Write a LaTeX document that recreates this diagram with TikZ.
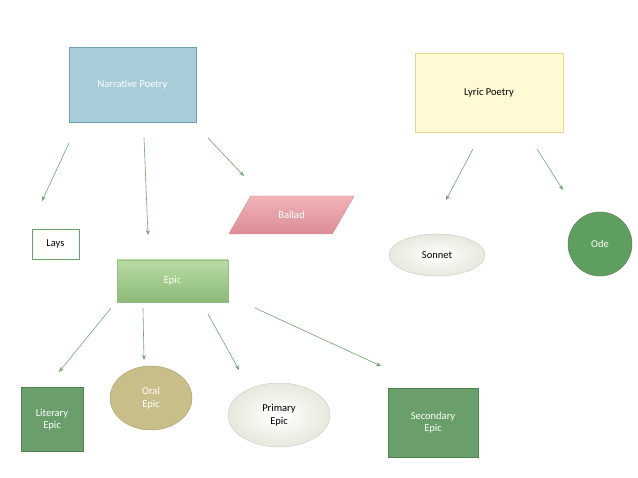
\documentclass[tikz,border=0pt]{standalone}
\usepackage{fontspec}
\setmainfont{Carlito}
\usetikzlibrary{shapes.geometric,arrows.meta}
\definecolor{arr}{HTML}{6FA56F}
\definecolor{gbox}{HTML}{6A9E6A}
\definecolor{gbord}{HTML}{4E844E}
\tikzset{
 x=1pt,y=-1pt,
 lbl/.style={font=\fontsize{10.5}{12.5}\selectfont,align=center},
 wt/.style={lbl,text=white},
 ar/.style={draw=arr,-{Stealth[length=5pt,width=4pt]},line width=0.6pt},
 gsq/.style={wt,draw=gbord,fill=gbox,minimum width=62pt,minimum height=64pt},
}
\begin{document}
\begin{tikzpicture}
\useasboundingbox (0,0) rectangle (638,478);
\node[wt,draw={rgb,255:red,110;green,160;blue,180},fill={rgb,255:red,168;green,205;blue,216},minimum width=127pt,minimum height=75pt] (np) at (132.5,84.5) {Narrative Poetry};
\node[lbl,draw={rgb,255:red,230;green,214;blue,140},fill={rgb,255:red,255;green,249;blue,212},minimum width=148pt,minimum height=79pt] (lp) at (489,92.5) {Lyric Poetry};
\node[lbl,draw=gbox,fill=white,minimum width=47pt,minimum height=30pt] (lays) at (55.5,244) {Lays};
\node[wt,trapezium,trapezium left angle=60,trapezium right angle=120,draw={rgb,255:red,215;green,140;blue,145},top color={rgb,255:red,240;green,180;blue,185},bottom color={rgb,255:red,220;green,140;blue,148},minimum width=80pt,minimum height=38pt,inner xsep=2pt] (ballad) at (291.5,215) {Ballad};
\node[wt,draw={rgb,255:red,150;green,190;blue,130},top color={rgb,255:red,185;green,220;blue,165},bottom color={rgb,255:red,140;green,185;blue,120},minimum width=111pt,minimum height=42pt] (epic) at (172.5,281) {Epic};
\node[lbl,ellipse,draw={rgb,255:red,200;green,200;blue,190},inner color=white,outer color={rgb,255:red,232;green,232;blue,222},minimum width=96pt,minimum height=42pt] (sonnet) at (437,255) {Sonnet};
\node[wt,circle,draw=gbord,fill={rgb,255:red,94;green,158;blue,94},minimum size=64pt] (ode) at (600,244) {Ode};
\node[gsq] (lit) at (52,419.5) {Literary\\Epic};
\node[wt,ellipse,draw={rgb,255:red,165;green,155;blue,100},fill={rgb,255:red,200;green,190;blue,138},minimum width=82pt,minimum height=64pt] (oral) at (151,398) {Oral\\Epic};
\node[lbl,ellipse,draw={rgb,255:red,200;green,200;blue,190},inner color=white,outer color={rgb,255:red,232;green,232;blue,222},minimum width=102pt,minimum height=64pt] (prim) at (279,415) {Primary\\Epic};
\node[gsq,minimum width=90pt,minimum height=69pt] (sec) at (433,422.5) {Secondary\\Epic};
\coordinate (a1) at (69,143); \coordinate (b1) at (42,201);
\coordinate (a2) at (144,138); \coordinate (b2) at (148,235);
\coordinate (a3) at (208,138); \coordinate (b3) at (244,176);
\coordinate (a4) at (473,149); \coordinate (b4) at (446,200);
\coordinate (a5) at (537,149); \coordinate (b5) at (563,190);
\coordinate (a6) at (111,308); \coordinate (b6) at (59,372);
\coordinate (a7) at (143,308); \coordinate (b7) at (144,360);
\coordinate (a8) at (208,314); \coordinate (b8) at (239,370);
\coordinate (a9) at (255,308); \coordinate (b9) at (381,366);
\foreach \i in {1,...,9} \draw[ar] (a\i) -- (b\i);
\end{tikzpicture}
\end{document}
